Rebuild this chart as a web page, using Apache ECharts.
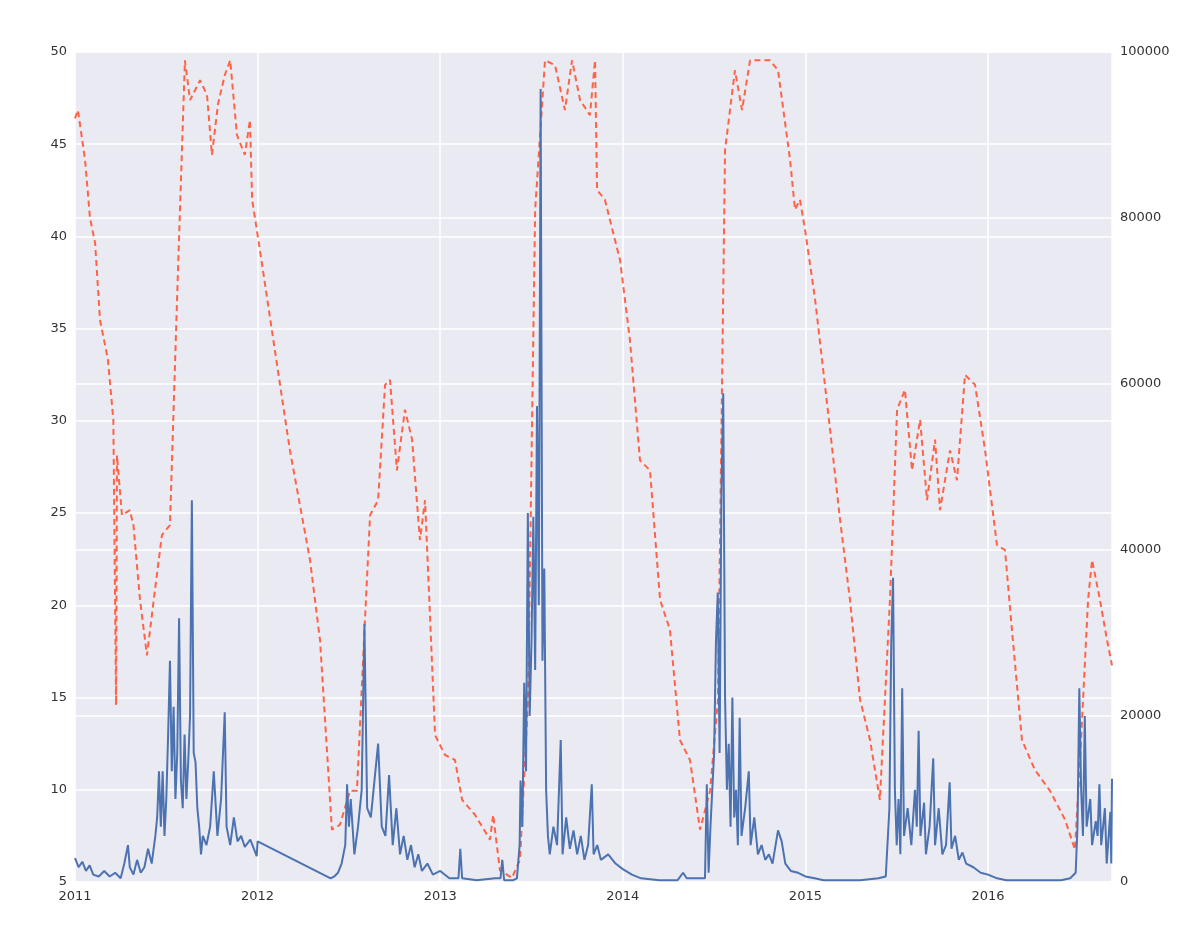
<!DOCTYPE html>
<html>
<head>
<meta charset="utf-8">
<script src="https://cdn.jsdelivr.net/npm/echarts@6/dist/echarts.min.js"></script>
<style>html,body{margin:0;background:#fff}#chart{width:1200px;height:927px}</style>
</head>
<body>
<div id="chart"></div>
<script>
// years since 2011 / values
const blueT = [0,.02,.04,.06,.08,.10,.13,.16,.19,.22,.25,.27,.29,.30,.32,.34,.36,.38,.40,.42,.44,.45,.46,.47,.48,.49,.50,.51,.52,.53,.54,.55,.56,.57,.58,.59,.60,.61,.62,.63,.64,.65,.66,.67,.68,.69,.70,.72,.74,.76,.78,.80,.82,.83,.85,.87,.89,.91,.93,.96,.98,.995,1.00,1.40,
1.42,1.44,1.46,1.48,1.49,1.50,1.51,1.53,1.55,1.57,1.585,1.60,1.62,1.64,1.66,1.68,1.70,1.72,1.74,1.76,1.78,1.80,1.82,1.84,1.86,1.88,1.90,1.93,1.96,2.00,2.05,2.10,2.11,2.12,2.20,2.30,2.33,2.34,2.35,2.40,2.42,2.435,2.44,2.45,2.46,2.47,2.48,2.49,2.50,2.51,2.52,2.53,2.54,2.55,2.56,2.57,2.58,2.59,2.60,2.62,2.64,2.66,2.67,2.69,2.71,2.73,2.75,2.77,2.79,2.81,2.83,2.84,2.86,2.88,2.92,2.96,3.00,3.05,3.10,3.2,3.3,3.33,3.35,3.45,
3.46,3.47,3.48,3.50,3.51,3.52,3.53,3.54,3.55,3.56,3.57,3.58,3.59,3.60,3.61,3.62,3.63,3.64,3.65,3.67,3.69,3.70,3.72,3.74,3.76,3.78,3.80,3.82,3.85,3.87,3.89,3.92,3.96,4.00,4.05,4.1,4.2,4.3,4.40,4.44,4.45,4.46,4.47,4.48,4.49,4.50,4.51,4.52,4.53,4.54,4.56,4.58,4.60,4.61,4.62,4.63,4.65,4.66,4.68,4.70,4.71,4.73,4.75,4.77,4.79,4.80,4.82,4.84,4.86,4.88,4.92,4.96,5.00,5.05,5.1,5.2,5.3,5.4,5.45,5.48,5.49,5.50,5.51,5.52,5.53,5.54,5.56,5.57,5.59,5.60,5.61,5.62,5.64,5.65,5.67,5.675,5.679];
const blueV = [6.3,5.8,6.1,5.6,5.9,5.4,5.3,5.6,5.3,5.5,5.2,6.0,7.0,5.8,5.4,6.2,5.5,5.8,6.8,6.0,7.5,8.5,11.0,8.0,11.0,7.5,9.5,13.0,17.0,11.0,14.5,9.5,12.0,19.3,10.5,9.0,13.0,9.5,11.5,14.0,25.7,12.0,11.5,9.0,8.0,6.5,7.5,7.0,8.0,11.0,7.5,9.5,14.2,8.0,7.0,8.5,7.2,7.5,6.9,7.3,6.8,6.4,7.2,5.2,
5.3,5.5,6.0,7.0,10.3,8.0,9.5,6.5,8.0,10.0,19.0,9.0,8.5,10.5,12.5,8.0,7.5,10.8,7.0,9.0,6.5,7.5,6.2,7.0,5.8,6.5,5.6,6.0,5.4,5.6,5.2,5.2,6.8,5.2,5.1,5.2,5.2,6.2,5.1,5.1,5.2,7.0,10.5,8.0,15.8,11.0,25.0,14.0,18.0,24.8,16.5,30.8,20.0,48.0,17.0,22.0,10.0,7.5,6.5,8.0,7.0,12.7,6.5,8.5,6.8,7.8,6.5,7.5,6.2,7.0,10.3,6.5,7.0,6.2,6.5,6.0,5.7,5.4,5.2,5.1,5.1,5.5,5.2,5.2,
10.3,5.5,8.0,12.0,18.0,20.7,12.0,26.0,31.5,15.0,10.0,12.5,8.0,15.0,8.5,10.0,7.0,13.9,7.5,9.0,11.0,7.0,8.5,6.5,7.0,6.2,6.5,6.0,7.8,7.2,6.0,5.6,5.5,5.3,5.2,5.1,5.1,5.1,5.2,5.3,5.2,9.0,18.0,21.5,10.0,7.0,9.5,6.5,15.5,7.5,9.0,7.0,10.0,8.0,13.2,7.5,9.3,6.5,8.0,11.7,7.0,9.0,6.5,7.0,10.4,6.8,7.5,6.2,6.6,6.0,5.8,5.5,5.4,5.2,5.1,5.1,5.1,5.1,5.2,5.5,8.0,15.5,10.0,7.5,14.0,8.0,9.5,7.0,8.3,7.5,10.3,7.0,9.0,6.0,8.8,6.0,10.6];
const redT = [0,.016,.055,.082,.11,.137,.18,.21,.225,.23,.257,.30,.32,.356,.394,.438,.476,.52,.564,.602,.63,.685,.723,.75,.783,.82,.85,.887,.93,.958,.97,1.013,1.095,1.177,1.287,1.342,1.407,1.451,1.506,1.544,1.588,1.616,1.66,1.698,1.725,1.763,1.807,1.846,1.889,1.917,1.972,2.026,2.081,2.12,2.19,2.273,2.29,2.327,2.393,2.437,2.481,2.52,2.574,2.629,2.683,2.722,2.766,2.82,2.848,2.859,2.902,2.985,3.039,3.094,3.149,3.204,3.258,3.313,3.368,3.423,3.478,3.521,3.56,3.614,3.653,3.697,3.806,3.85,3.916,3.943,3.97,3.998,4.053,4.135,4.19,4.244,4.299,4.354,4.408,4.463,4.502,4.545,4.584,4.628,4.666,4.71,4.737,4.792,4.83,4.874,4.929,4.984,5.049,5.093,5.131,5.186,5.257,5.339,5.422,5.476,5.504,5.548,5.57,5.613,5.652,5.679];
const redV = [92000,93000,87000,80000,77000,67700,63000,55700,21300,51400,44200,44800,43000,34000,27300,35200,41800,43000,73700,99000,94200,96600,94800,87600,93700,97200,99000,90000,87600,91800,82200,76100,64000,52000,38800,29100,6300,6900,11000,11000,31600,44200,46000,59900,60500,49600,56900,53300,41200,46000,17700,15300,14700,9900,8100,5100,8100,1400,500,2700,22000,81000,99000,98400,93000,99000,94200,92400,99000,83400,82200,74900,65300,50800,49600,34000,30400,17100,14700,6300,11000,22000,88200,97800,93000,99000,99000,97800,87000,81000,82200,78600,70200,54500,43600,34000,22000,17100,9900,34000,56900,59300,49600,55700,46000,53300,44800,52000,48400,61100,59900,52000,40600,40000,30400,17100,13500,11000,7500,3900,14700,34000,38800,34000,29100,26100];
const yearTicks = [2011, 2012, 2013, 2014, 2015, 2016];

const chart = echarts.init(document.getElementById('chart'));
const lbl = {color: '#333', fontSize: 13, fontFamily: 'DejaVu Sans'};
chart.setOption({
  animation: false,
  grid: {left: 75, right: 88, top: 52, bottom: 45, show: true, backgroundColor: '#EAEAF2', borderWidth: 0},
  xAxis: {
    type: 'value', min: 2011, max: 2011 + 5.679, interval: 1,
    axisLine: {show: false}, axisTick: {show: false},
    splitLine: {lineStyle: {color: '#fff', width: 1.5}},
    axisLabel: Object.assign({showMaxLabel: false, margin: 8,
      formatter: v => yearTicks.includes(Math.round(v)) ? String(Math.round(v)) : ''}, lbl)
  },
  yAxis: [
    {type: 'value', min: 5, max: 50, interval: 5, axisLine: {show: false}, axisTick: {show: false},
     splitLine: {lineStyle: {color: '#fff', width: 1.5}}, axisLabel: lbl},
    {type: 'value', min: 0, max: 100000, interval: 20000, axisLine: {show: false}, axisTick: {show: false},
     splitLine: {lineStyle: {color: '#fff', width: 1.5}},
     axisLabel: Object.assign({formatter: v => String(v)}, lbl)}
  ],
  series: [
    {type: 'line', yAxisIndex: 1, data: redT.map((t, i) => [2011 + t, redV[i]]), showSymbol: false,
     lineStyle: {color: '#FF6347', width: 2, type: [6, 4]}, z: 2},
    {type: 'line', yAxisIndex: 0, data: blueT.map((t, i) => [2011 + t, blueV[i]]), showSymbol: false,
     lineStyle: {color: '#4C72B0', width: 2}, z: 3}
  ]
});
</script>
</body>
</html>
